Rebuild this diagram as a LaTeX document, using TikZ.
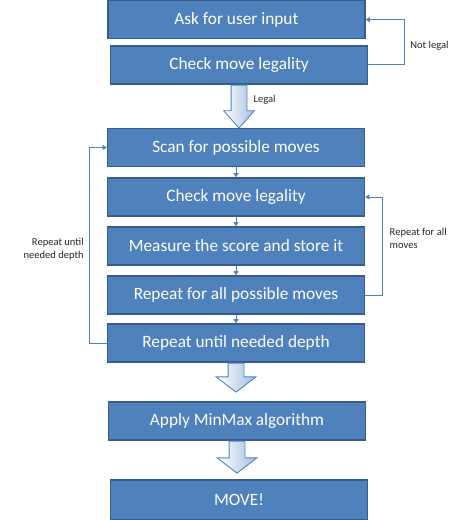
\documentclass[tikz,border=0pt]{standalone}
\usepackage{fontspec}
\setmainfont{Carlito}
\usetikzlibrary{arrows.meta,positioning,calc,shapes.arrows}
\definecolor{boxblue}{HTML}{4F81BD}
\definecolor{boxedge}{HTML}{385D8A}
\definecolor{arrowblue}{HTML}{A3BDE0}

\begin{document}
\begin{tikzpicture}[
    box/.style={draw=boxedge, line width=1pt, fill=boxblue, minimum width=6.425cm,
                minimum height=0.95cm, text=white, font=\fontsize{12.3}{14}\selectfont},
    conn/.style={-{Triangle[length=3pt,width=3.5pt]}, draw=boxblue, line width=0.7pt},
    bigarrow/.style={single arrow, draw=boxblue, line width=0.6pt, left color=white,
                     right color=arrowblue, rotate=-90, inner xsep=0pt,
                     inner ysep=0.1875cm, anchor=tail},
    lbl/.style={font=\fontsize{7.5}{8.9}\selectfont, text=black!85, inner sep=1pt}
  ]
  \useasboundingbox (0,0) rectangle (11.85,13);
  % Input part
  \node[box] (ask)    at (5.91, 12.51) {Ask for user input};
  \node[box] (check1) at (5.975, 11.375) {Check move legality};
  % Search part
  \node[box] (scan)    at (5.9, 9.3125) {Scan for possible moves};
  \node[box] (check2)  at (5.9, 8.075) {Check move legality};
  \node[box] (measure) at (5.9, 6.85) {Measure the score and store it};
  \node[box] (repeat)  at (5.9, 5.625) {Repeat for all possible moves};
  \node[box] (depth)   at (5.9, 4.425) {Repeat until needed depth};
  % Decision part
  \node[box] (minmax) at (5.925, 2.475) {Apply MinMax algorithm};
  \node[box, minimum height=1cm] (move) at (5.975, 0.5) {MOVE!};
  % Block arrows
  \node[bigarrow, minimum height=1.075cm, single arrow head extend=0.1875cm,
        single arrow tip angle=83] (legal) at (check1.south) {};
  \node[lbl, anchor=west] (legaltxt) at (6.3, 10.5) {Legal};
  \node[bigarrow, minimum height=0.725cm, single arrow head extend=0.3cm,
        single arrow tip angle=105] (go1) at (depth.south) {};
  \node[bigarrow, minimum height=0.8cm, single arrow head extend=0.3cm,
        single arrow tip angle=105] (go2) at (minmax.south) {};
  % Straight connectors
  \draw[conn] (scan) -- (check2);
  \draw[conn] (check2) -- (measure);
  \draw[conn] (measure) -- (repeat);
  \draw[conn] (repeat) -- (depth);
  % Loops
  \draw[conn] (check1.east) -- ++(0.9,0) |- (ask.east)
    node[lbl, right=3pt, pos=0.21] {Not legal};
  \draw[conn] (repeat.east) -- ++(0.425,0) |- (check2.east)
    node[lbl, right=4pt, pos=0.29, align=left] {Repeat for all\\moves};
  \draw[conn] (depth.west) -- ++(-0.425,0) |- (scan.west)
    node[lbl, left=3pt, pos=0.24, align=right] {Repeat until\\needed depth};
\end{tikzpicture}
\end{document}
